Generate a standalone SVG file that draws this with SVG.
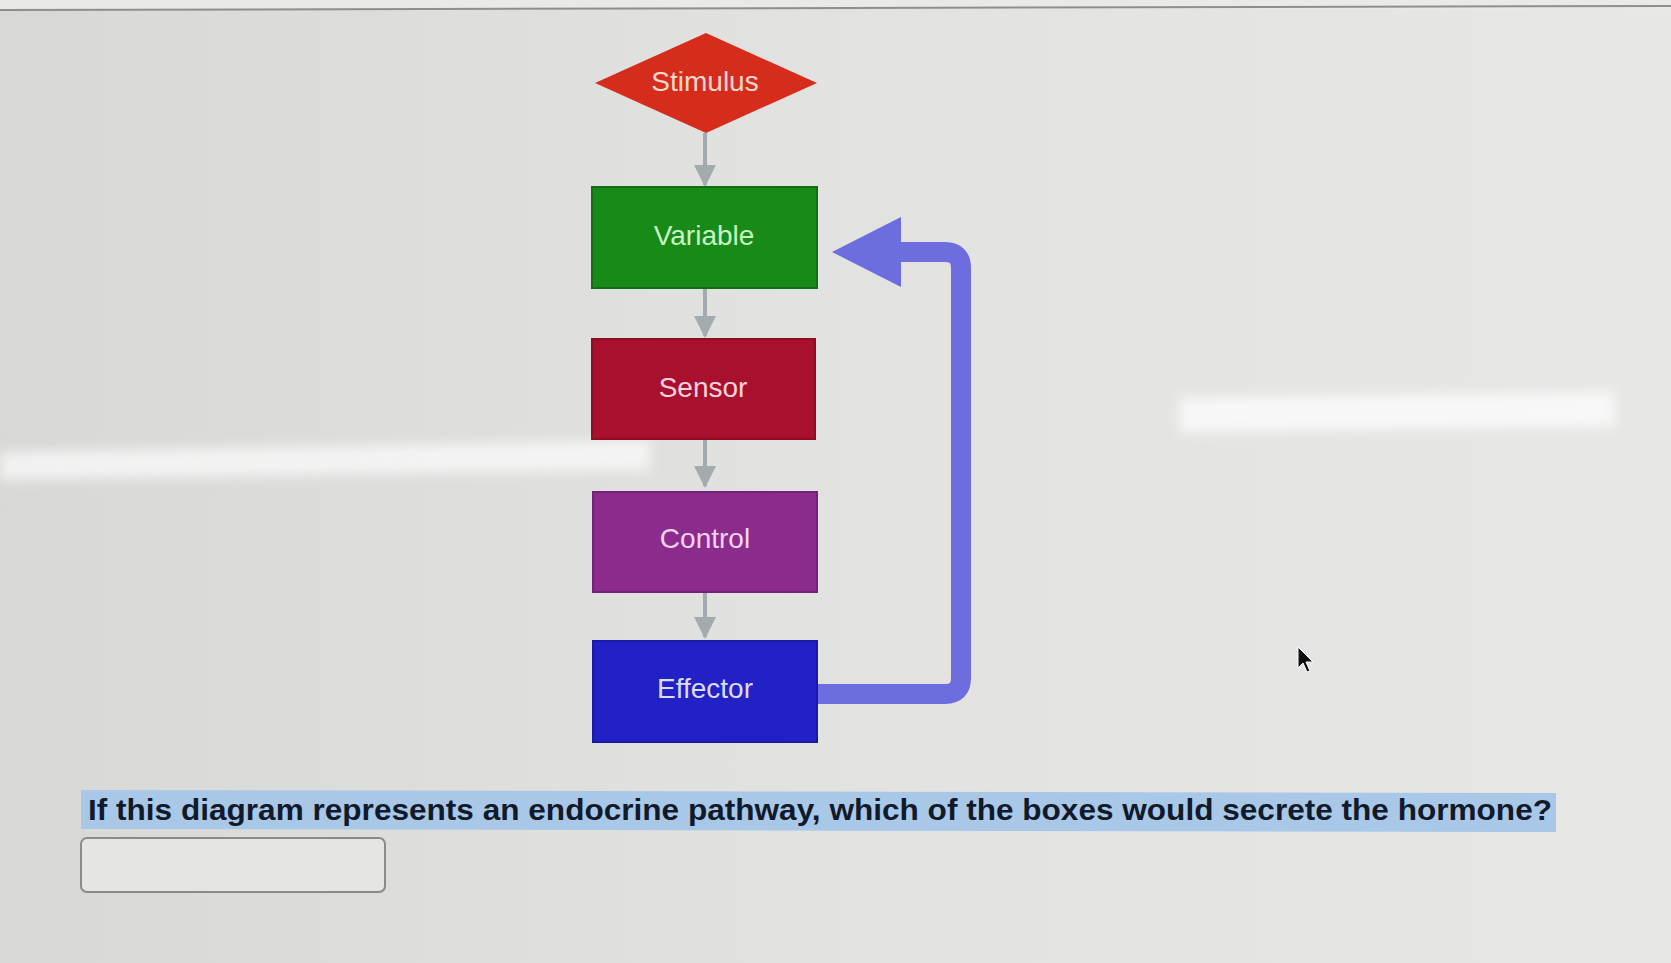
<svg xmlns="http://www.w3.org/2000/svg" width="1671" height="963" viewBox="0 0 1671 963">
<defs>
<linearGradient id="bg" x1="0" y1="0" x2="1" y2="0">
<stop offset="0" stop-color="#d8d8d6"/>
<stop offset="0.5" stop-color="#e2e2e0"/>
<stop offset="1" stop-color="#e7e7e5"/>
</linearGradient>
<filter id="blur" x="-20%" y="-200%" width="140%" height="500%"><feGaussianBlur stdDeviation="6"/></filter>
<marker id="ga" markerWidth="22" markerHeight="22" refX="20" refY="11" orient="auto" markerUnits="userSpaceOnUse" viewBox="0 0 22 22">
<path d="M0,0 L22,11 L0,22 Z" fill="#a3abaf"/>
</marker>
<style>
.lbl{font-family:"Liberation Sans",Arial,sans-serif;font-size:28px;text-anchor:middle}
.gline{stroke:#a3abaf;stroke-width:4;fill:none}
</style>
</defs>
<rect width="1671" height="963" fill="url(#bg)"/>
<rect width="1671" height="9" fill="#e9e9e7"/>
<line x1="0" y1="10" x2="1671" y2="6" stroke="#8e8e8e" stroke-width="2"/>
<path d="M0,452 L650,440 L650,470 L0,480 Z" fill="#fafafa" opacity="0.75" filter="url(#blur)"/>
<path d="M1180,398 L1615,392 L1615,426 L1180,432 Z" fill="#fbfbfb" opacity="0.85" filter="url(#blur)"/>

<g id="connectors">
<line class="gline" x1="705" y1="133" x2="705" y2="185" marker-end="url(#ga)"/>
<line class="gline" x1="705" y1="288" x2="705" y2="336" marker-end="url(#ga)"/>
<line class="gline" x1="705" y1="439" x2="705" y2="486" marker-end="url(#ga)"/>
<line class="gline" x1="705" y1="592" x2="705" y2="637" marker-end="url(#ga)"/>
<path d="M817,694 L945,694 Q961,694 961,678 L961,268 Q961,252 945,252 L898,252" fill="none" stroke="#6d6de0" stroke-width="20"/>
<polygon points="832,252 901,217 901,287" fill="#6d6de0"/>
</g>

<g id="stimulus">
<polygon points="706,33 817,83 706,133 595,83" fill="#d52c1b"/>
<text class="lbl" x="705" y="91" fill="#ffd9cf">Stimulus</text>
</g>
<g id="variable">
<rect x="592" y="187" width="225" height="101" fill="#178a17" stroke="#116e11" stroke-width="2"/>
<text class="lbl" x="704" y="245" fill="#c9f5c4">Variable</text>
</g>
<g id="sensor">
<rect x="592" y="339" width="223" height="100" fill="#a8102d" stroke="#8e0c25" stroke-width="2"/>
<text class="lbl" x="703" y="397" fill="#ffd3df">Sensor</text>
</g>
<g id="control">
<rect x="593" y="492" width="224" height="100" fill="#8b2b8c" stroke="#73207a" stroke-width="2"/>
<text class="lbl" x="705" y="548" fill="#f6d3f6">Control</text>
</g>
<g id="effector">
<rect x="593" y="641" width="224" height="101" fill="#2121c6" stroke="#1a1aa6" stroke-width="2"/>
<text class="lbl" x="705" y="698" fill="#dcdcff">Effector</text>
</g>

<g id="question">
<polygon points="81,790 1556,793 1556,832 81,829" fill="#a9c8e8"/>
<text x="88" y="820" font-family="Liberation Sans, Arial, sans-serif" font-weight="bold" font-size="30" fill="#111a2a" textLength="1464" lengthAdjust="spacingAndGlyphs">If this diagram represents an endocrine pathway, which of the boxes would secrete the hormone?</text>
</g>
<g id="answer">
<rect x="81" y="838" width="304" height="54" rx="6" fill="#e5e5e3" stroke="#8a8a8a" stroke-width="2"/>
</g>
<g id="cursor">
<path d="M1298,647 L1298,668 L1303,663 L1307,672 L1310,671 L1306,662 L1313,662 Z" fill="#111" stroke="#fff" stroke-width="1"/>
</g>
</svg>
